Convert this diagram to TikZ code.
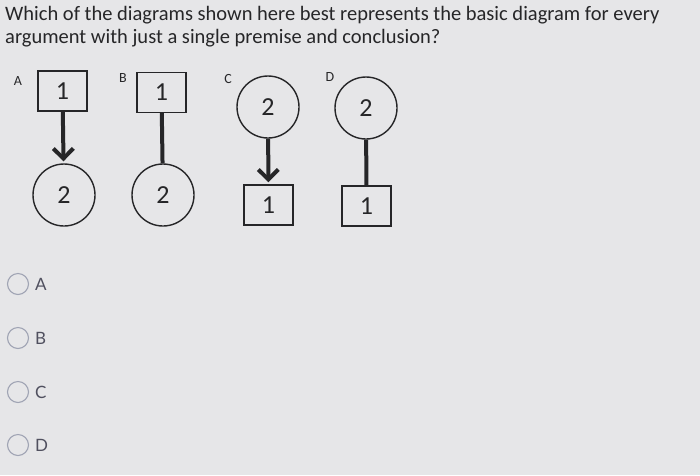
\documentclass[tikz,border=0pt]{standalone}
\usepackage{fontspec}
\setmainfont{Carlito}
\newfontfamily\latofont{Lato}
\usetikzlibrary{arrows.meta}
\definecolor{bg}{HTML}{E6E6E8}
\definecolor{ink}{HTML}{262628}
\definecolor{optink}{HTML}{50505F}
\definecolor{radio}{HTML}{A0A4B4}
\tikzset{
  box/.style={draw=ink, line width=1.4pt, minimum width=49pt, minimum height=40pt, inner sep=0pt, font=\fontsize{26pt}{26pt}\selectfont, text=ink},
  circ/.style={draw=ink, line width=1.4pt, circle, minimum size=62pt, inner sep=0pt, font=\fontsize{26pt}{26pt}\selectfont, text=ink},
  arr/.style={draw=ink, line width=4pt, -{Straight Barb[length=10pt, width=20pt, line width=4pt]}, shorten >=2pt},
  lnk/.style={draw=ink, line width=4pt},
  lbl/.style={font=\fontsize{14pt}{14pt}\selectfont, text=ink, inner sep=0pt},
  radiob/.style={draw=radio, line width=1.1pt, circle, minimum size=21pt, inner sep=0pt},
  opt/.style={font=\latofont\fontsize{17pt}{17pt}\selectfont, text=optink, anchor=west, inner sep=0pt},
  qtext/.style={font=\fontsize{20.5pt}{23.5pt}\selectfont, text=ink, anchor=north west, inner sep=0pt, align=left}
}
\begin{document}
\begin{tikzpicture}[x=1pt, y=-1pt]
\fill[bg] (0,0) rectangle (700,475);
\useasboundingbox (0,0) rectangle (700,475);
\node[qtext] (q) at (5,6) {Which of the diagrams shown here best represents the basic diagram for every\\argument with just a single premise and conclusion?};
% A
\node[lbl] (la) at (18,81) {A};
\node[box] (a1) at (62.5,91) {1};
\node[circ] (a2) at (64,195) {2};
\draw[arr] (a1) -- (a2);
% B
\node[lbl] (lb) at (123,78) {B};
\node[box] (b1) at (161.5,92.5) {1};
\node[circ] (b2) at (163,195) {2};
\draw[lnk] (b1) -- (b2);
% C
\node[lbl] (lc) at (228,79) {C};
\node[circ] (c2) at (268,107) {2};
\node[box] (c1) at (268.5,205) {1};
\draw[arr] (c2) -- (c1);
% D
\node[lbl] (ld) at (330,77) {D};
\node[circ] (d2) at (366,108) {2};
\node[box] (d1) at (366.5,206) {1};
\draw[lnk] (d2) -- (d1);
% options
\node[radiob] (r1) at (18,284) {};
\node[opt] (o1) at (35,284) {A};
\node[radiob] (r2) at (18,338) {};
\node[opt] (o2) at (35,338) {B};
\node[radiob] (r3) at (18,392) {};
\node[opt] (o3) at (35,392) {C};
\node[radiob] (r4) at (18,445) {};
\node[opt] (o4) at (35,445) {D};
\end{tikzpicture}
\end{document}
